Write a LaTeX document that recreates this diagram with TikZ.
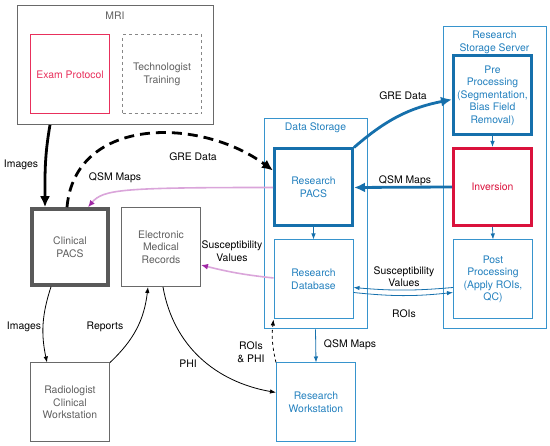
\documentclass[tikz,border=0pt]{standalone}
\usepackage{fontspec}
\setmainfont{TeX Gyre Heros}
\usetikzlibrary{arrows.meta,shapes,positioning}

\definecolor{boxgray}{RGB}{105,105,105}
\definecolor{textgray}{RGB}{95,95,95}
\definecolor{boxblue}{RGB}{22,112,172}
\definecolor{lineblue}{RGB}{55,148,205}
\definecolor{textblue}{RGB}{35,128,190}
\definecolor{protred}{RGB}{232,48,92}
\definecolor{invred}{RGB}{218,18,60}
\definecolor{mauve}{RGB}{218,165,218}
\definecolor{plum}{RGB}{160,40,165}

\begin{document}
\begin{tikzpicture}[x=1pt,y=1pt]
	\tikzstyle{every node} = [font=\fontsize{10.4}{12.5}\selectfont]
	\tikzstyle{graybox} = [
		draw=boxgray,
		line width=1pt,
		minimum width=79pt,
		minimum height=79pt,
		align=center,
		text=textgray
	]
	\tikzstyle{bluebox} = [graybox, draw=lineblue, text=textblue]
	\tikzstyle{bigbluebox} = [bluebox, draw=boxblue, line width=3pt, minimum width=78pt, minimum height=77pt]
	\tikzstyle{group} = [draw=lineblue, line width=1pt]
	\tikzstyle{flow} = [-{Latex[length=6pt,width=4.5pt]}, line width=0.8pt]
	\tikzstyle{bigflow} = [-{Latex[length=11pt,width=10pt]}, line width=2.8pt]
	\tikzstyle{pinkflow} = [mauve, line width=1.6pt, -{Latex[length=7pt,width=6pt,color=plum]}]

	\useasboundingbox (0,0) rectangle (550,446);

	% MRI
	\node (mri) [group, draw=boxgray, minimum width=196pt, minimum height=119pt] at (115,381) {};
	\node (mrilabel) [below=3pt of mri.north, text=textgray] {MRI};
	\node (exam) [graybox, draw=protred, text=protred] at (70,371.5) {Exam Protocol};
	\node (tech) [graybox, draw=boxgray!80, dashed] at (162,371.5) {Technologist\\Training};

	% clinical side
	\node (cpacs) [graybox, draw=boxgray!85!black, line width=3.5pt, minimum width=76pt, minimum height=76pt] at (70,199) {Clinical\\PACS};
	\node (emr) [graybox] at (161,199) {Electronic\\Medical\\Records};
	\node (radio) [graybox] at (70,43.5) {Radiologist\\Clinical\\Workstation};

	% data storage
	\node (dstore) [group, minimum width=103pt, minimum height=210pt] at (315.5,222) {};
	\node (dstorelabel) [below=1pt of dstore.north, text=textblue] {Data Storage};
	\node (rpacs) [bigbluebox] at (313.5,258.5) {Research\\PACS};
	\node (rdb) [bluebox] at (313.5,166.5) {Research\\Database};
	\node (rws) [bluebox] at (316,43.5) {Research\\Workstation};

	% research storage server
	\node (server) [group, minimum width=103pt, minimum height=302pt] at (494.5,268) {};
	\node (serverlabel) [below=1pt of server.north, text=textblue, align=center] {Research\\Storage Server};
	\node (pre) [bigbluebox, minimum height=79pt] at (492.5,350.5) {Pre\\Processing\\(Segmentation,\\Bias Field\\Removal)};
	\node (inv) [bigbluebox, draw=invred, text=invred] at (492.5,259) {Inversion};
	\node (post) [bluebox] at (493,166.5) {Post\\Processing\\(Apply ROIs,\\QC)};

	% connectors
	\draw [bigflow] ([xshift=-65pt]mri.south) to[out=-100,in=90] ([xshift=-25pt]cpacs.north);
	\draw [bigflow, dash pattern=on 10pt off 6pt] ([xshift=-3pt]cpacs.north) .. controls +(8,91) and +(-73,54) .. ([yshift=17pt]rpacs.west);
	\draw [pinkflow] (rpacs.west) .. controls +(-150,0) and +(15,18) .. ([xshift=18pt]cpacs.north);
	\draw [bigflow, boxblue] (rpacs.north east) to[bend left=15] ([yshift=-4pt]pre.west);
	\draw [bigflow, boxblue] (inv.west) -- (rpacs.east);
	\draw [flow, boxblue] (pre.south) -- (inv.north);
	\draw [flow, boxblue] (inv.south) -- (post.north);
	\draw [flow, boxblue] (rpacs.south) -- (rdb.north);
	\draw [flow, boxblue] ([yshift=-8pt]post.west) to[bend left=5] ([yshift=-8pt]rdb.east);
	\draw [flow, boxblue] ([yshift=-13pt]rdb.east) to[bend right=6] ([yshift=-13pt]post.west);
	\draw [pinkflow] ([yshift=1.5pt]rdb.west) to[bend left=4] ([yshift=-18pt]emr.east);
	\draw [flow, boxblue] (dstore.south) -- (rws.north);
	\draw [flow, dashed] (rws.north west) to[bend left=10] (rdb.south west);
	\draw [flow] ([xshift=2pt]emr.south) to[out=-80,in=170] ([yshift=10pt]rws.west);
	\draw [flow] ([xshift=-19pt]cpacs.south) to[bend right=15] ([xshift=-23pt]radio.north);
	\draw [flow] (radio.north east) to[bend right=20] ([xshift=-13pt]emr.south);

	% connector labels
	\node (imagestop) at (21,281) {Images};
	\node (gredash) at (193,289) {GRE Data};
	\node (qsmpink) at (115,268) {QSM Maps};
	\node (greblue) at (403,350) {GRE Data};
	\node (qsmblue) at (405,265) {QSM Maps};
	\node (suscright) [align=center] at (404,169.5) {Susceptibility\\Values};
	\node (rois) at (404,132) {ROIs};
	\node (suscleft) [align=center] at (232,195) {Susceptibility\\Values};
	\node (qsmbottom) at (350,101) {QSM Maps};
	\node (roisphi) [align=center] at (251,94) {ROIs\\\& PHI};
	\node (phi) at (188,82) {PHI};
	\node (imagesbottom) at (24,119) {Images};
	\node (reports) at (105,119) {Reports};
\end{tikzpicture}
\end{document}
